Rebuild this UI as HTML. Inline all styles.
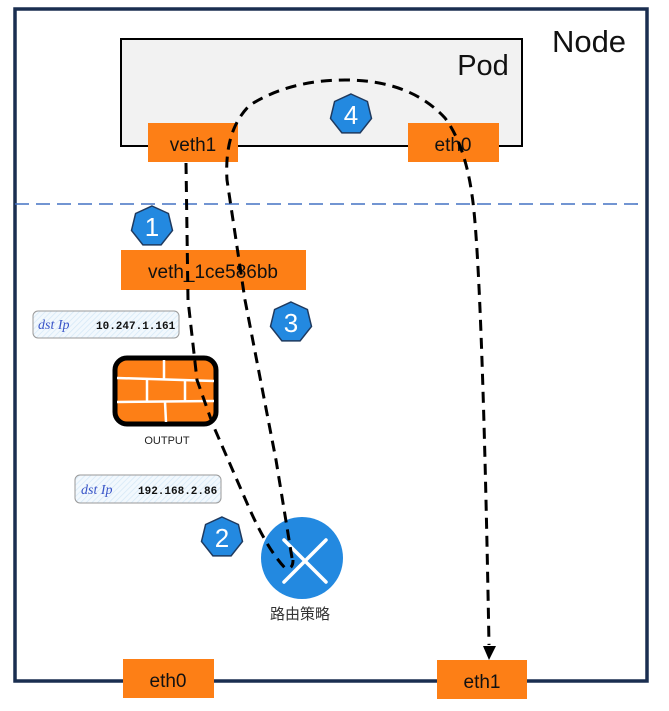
<!DOCTYPE html>
<html><head><meta charset="utf-8"><style>
html,body{margin:0;padding:0;background:#fff;}
svg{display:block;}
text{font-family:"Liberation Sans","Noto Sans CJK SC",sans-serif;}
</style></head><body>
<svg width="669" height="711" viewBox="0 0 669 711" xmlns="http://www.w3.org/2000/svg">
<defs>
<polygon id="hep" points="0,-20 16.4,-12.5 20.5,4.5 9.1,18.9 -9.1,18.9 -20.5,4.5 -16.4,-12.5" fill="#2389e0" stroke="#1f3a5f" stroke-width="1.5"/>
<pattern id="hatch" width="4" height="4" patternUnits="userSpaceOnUse" patternTransform="rotate(45)"><rect width="4" height="4" fill="#f2f8fd"/><line x1="0" y1="0" x2="0" y2="4" stroke="#d5e8f7" stroke-width="1.5"/></pattern>
</defs>
<rect x="15" y="9" width="632" height="672" fill="#fff" stroke="#1a2e50" stroke-width="3.5"/>
<text x="589" y="52" font-size="31" text-anchor="middle" fill="#111">Node</text>
<rect x="121" y="39" width="401" height="107" fill="#f2f2f2" stroke="#000" stroke-width="2"/>
<text x="483" y="75" font-size="29" text-anchor="middle" fill="#111">Pod</text>
<line x1="15" y1="204" x2="645" y2="204" stroke="#4472c4" stroke-width="1.6" stroke-dasharray="14,7"/>
<rect x="148" y="123" width="90" height="39" fill="#fd7f16"/>
<text x="193" y="151" font-size="19" text-anchor="middle" fill="#111">veth1</text>
<rect x="408" y="123" width="91" height="39" fill="#fd7f16"/>
<text x="453" y="151" font-size="19" text-anchor="middle" fill="#111">eth0</text>
<rect x="121" y="250" width="185" height="40" fill="#fd7f16"/>
<text x="213" y="278" font-size="19" text-anchor="middle" fill="#111">veth_1ce586bb</text>
<rect x="123" y="659" width="91" height="39" fill="#fd7f16"/>
<text x="168" y="687" font-size="19" text-anchor="middle" fill="#111">eth0</text>
<rect x="437" y="660" width="90" height="39" fill="#fd7f16"/>
<text x="482" y="688" font-size="19" text-anchor="middle" fill="#111">eth1</text>
<rect x="33" y="311" width="146" height="27" rx="5" fill="url(#hatch)" stroke="#999" stroke-width="1"/>
<text x="38" y="329" style="font-family:'Liberation Serif',serif;font-size:14px;font-style:italic" fill="#3a55c8">dst Ip</text>
<text x="96" y="329" style="font-family:'Liberation Mono',monospace;font-size:11px;font-weight:bold" fill="#111">10.247.1.161</text>
<rect x="75" y="475" width="146" height="28" rx="5" fill="url(#hatch)" stroke="#999" stroke-width="1"/>
<text x="81" y="494" style="font-family:'Liberation Serif',serif;font-size:14px;font-style:italic" fill="#3a55c8">dst Ip</text>
<text x="138" y="494" style="font-family:'Liberation Mono',monospace;font-size:11px;font-weight:bold" fill="#111">192.168.2.86</text>
<rect x="115" y="358" width="101" height="66" rx="12" fill="#fd7f16" stroke="#000" stroke-width="5"/>
<g stroke="#fff" stroke-width="2.5">
<line x1="117" y1="378" x2="214" y2="381"/>
<line x1="117" y1="402" x2="214" y2="401"/>
<line x1="164" y1="360" x2="164" y2="379"/>
<line x1="147" y1="380" x2="147" y2="402"/>
<line x1="185" y1="381" x2="185" y2="401"/>
<line x1="165" y1="402" x2="166" y2="422"/>
</g>
<text x="167" y="444" font-size="11" text-anchor="middle" fill="#222">OUTPUT</text>
<circle cx="302" cy="558" r="41" fill="#2389e0"/>
<line x1="284" y1="540" x2="326" y2="582" stroke="#fff" stroke-width="3.5" stroke-linecap="round"/>
<line x1="326" y1="540" x2="284" y2="582" stroke="#fff" stroke-width="3.5" stroke-linecap="round"/>
<text x="300" y="619" font-size="15" text-anchor="middle" fill="#333">路由策略</text>
<g fill="none" stroke="#000" stroke-width="3" stroke-dasharray="11,7">
<path d="M186,163 L188,300 L197,380 L213,425 L250,510 Q268,550 285,568 Q293,570 293,560"/>
<path d="M292,558 L276,460 L245,300 L227,180 Q224,130 250,105 Q290,80 345,80 Q410,80 445,118 Q465,145 472,195 Q482,260 489,645"/>
</g>
<polygon points="483,646 496,646 489,660" fill="#000"/>
<g font-size="26" fill="#fff" text-anchor="middle">
<use href="#hep" x="152" y="226"/><text x="152" y="236">1</text>
<use href="#hep" x="222" y="537"/><text x="222" y="547">2</text>
<use href="#hep" x="291" y="322"/><text x="291" y="332">3</text>
<use href="#hep" x="351" y="114"/><text x="351" y="124">4</text>
</g>
</svg>
</body></html>
